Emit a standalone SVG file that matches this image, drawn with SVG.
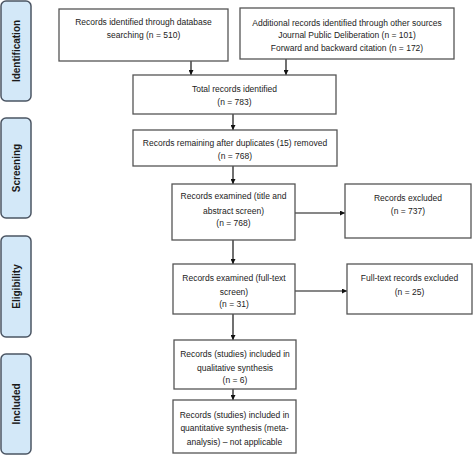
<svg xmlns="http://www.w3.org/2000/svg" width="474" height="455" viewBox="0 0 474 455">
<style>
.side{fill:#d3e8f8;stroke:#4b5563;stroke-width:1.5}
.side-t{font-family:"Liberation Sans",Arial,sans-serif;font-size:10px;font-weight:bold;fill:#1a1a1a;text-anchor:middle}
.box{fill:#ffffff;stroke:#555555;stroke-width:1.3}
.t{font-family:"Liberation Sans",Arial,sans-serif;font-size:8.5px;fill:#222222;text-anchor:middle}
.c{stroke:#111111;stroke-width:1.2;fill:none;marker-end:url(#ah)}
</style>
<defs>
<marker id="ah" viewBox="0 0 10 10" refX="10" refY="5" markerWidth="5" markerHeight="5" orient="auto" markerUnits="userSpaceOnUse">
<path d="M0,0 L10,5 L0,10 z" fill="#111111"/>
</marker>
</defs>
<rect width="474" height="455" fill="#ffffff"/>

<g id="stage-identification"><rect class="side" x="1" y="1" width="30" height="100" rx="5"/><text class="side-t" transform="translate(19.5,51) rotate(-90)">Identification</text></g>
<g id="stage-screening"><rect class="side" x="1" y="118" width="30" height="100" rx="5"/><text class="side-t" transform="translate(19.5,168) rotate(-90)">Screening</text></g>
<g id="stage-eligibility"><rect class="side" x="1" y="236" width="30" height="101" rx="5"/><text class="side-t" transform="translate(19.5,286.5) rotate(-90)">Eligibility</text></g>
<g id="stage-included"><rect class="side" x="1" y="354" width="30" height="100" rx="5"/><text class="side-t" transform="translate(19.5,404) rotate(-90)">Included</text></g>

<g id="connectors">
<line class="c" x1="191" y1="61" x2="191" y2="75"/>
<line class="c" x1="286" y1="59" x2="286" y2="75"/>
<line class="c" x1="233" y1="114" x2="233" y2="130"/>
<line class="c" x1="233" y1="166" x2="233" y2="184"/>
<line class="c" x1="295" y1="213" x2="345" y2="213"/>
<line class="c" x1="233" y1="240" x2="233" y2="264"/>
<line class="c" x1="295" y1="291" x2="347" y2="291"/>
<line class="c" x1="233" y1="314" x2="233" y2="340"/>
<line class="c" x1="233" y1="389" x2="233" y2="400"/>
</g>

<g id="n-database"><rect class="box" x="59" y="9" width="169" height="52"/>
<text class="t" x="143.5" y="25">Records identified through database</text>
<text class="t" x="143.5" y="37.5">searching (n = 510)</text></g>

<g id="n-additional"><rect class="box" x="240" y="8" width="214" height="51"/>
<text class="t" x="347" y="25.5">Additional records identified through other sources</text>
<text class="t" x="347" y="37.5">Journal Public Deliberation (n = 101)</text>
<text class="t" x="347" y="50.5">Forward and backward citation (n = 172)</text></g>

<g id="n-total"><rect class="box" x="133" y="75" width="203" height="39"/>
<text class="t" x="234.5" y="92">Total records identified</text>
<text class="t" x="234.5" y="105">(n = 783)</text></g>

<g id="n-dupes"><rect class="box" x="133" y="130" width="204" height="36"/>
<text class="t" x="235" y="146">Records remaining after duplicates (15) removed</text>
<text class="t" x="235" y="159">(n = 768)</text></g>

<g id="n-title"><rect class="box" x="172" y="184" width="123" height="56"/>
<text class="t" x="233.5" y="199">Records examined (title and</text>
<text class="t" x="233.5" y="213.5">abstract screen)</text>
<text class="t" x="233.5" y="226">(n = 768)</text></g>

<g id="n-excluded"><rect class="box" x="345" y="184" width="126" height="54"/>
<text class="t" x="408" y="201">Records excluded</text>
<text class="t" x="408" y="214">(n = 737)</text></g>

<g id="n-fulltext"><rect class="box" x="173" y="264" width="122" height="50"/>
<text class="t" x="234" y="281">Records examined (full-text</text>
<text class="t" x="234" y="295">screen)</text>
<text class="t" x="234" y="306.5">(n = 31)</text></g>

<g id="n-ftexcluded"><rect class="box" x="347" y="264" width="125" height="50"/>
<text class="t" x="409.5" y="281">Full-text records excluded</text>
<text class="t" x="409.5" y="295">(n = 25)</text></g>

<g id="n-qualitative"><rect class="box" x="174" y="340" width="122" height="49"/>
<text class="t" x="235" y="357">Records (studies) included in</text>
<text class="t" x="235" y="371">qualitative synthesis</text>
<text class="t" x="235" y="382.5">(n = 6)</text></g>

<g id="n-quantitative"><rect class="box" x="173" y="400" width="123" height="53"/>
<text class="t" x="234.5" y="418">Records (studies) included in</text>
<text class="t" x="234.5" y="431">quantitative synthesis (meta-</text>
<text class="t" x="234.5" y="445">analysis) – not applicable</text></g>
</svg>
